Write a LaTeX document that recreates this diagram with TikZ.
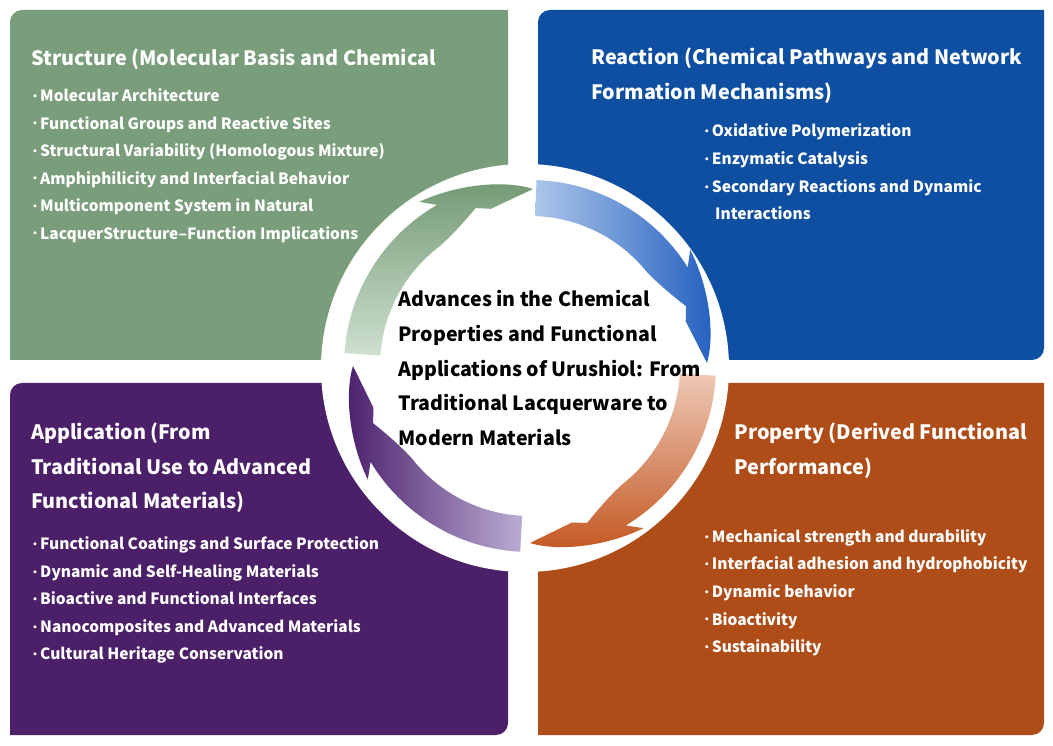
\documentclass[tikz,border=0pt]{standalone}
\usepackage{fontspec}
\setmainfont{Noto Sans CJK SC}
\definecolor{pgreen}{RGB}{122,158,123}
\definecolor{pblue}{RGB}{14,79,161}
\definecolor{ppurple}{RGB}{76,31,105}
\definecolor{porange}{RGB}{174,77,24}
\definecolor{ggreenL}{RGB}{206,224,207}
\definecolor{ggreenD}{RGB}{116,154,117}
\definecolor{gblueL}{RGB}{172,198,234}
\definecolor{gblueD}{RGB}{36,96,192}
\definecolor{gorangeL}{RGB}{237,200,182}
\definecolor{gorangeD}{RGB}{196,88,34}
\definecolor{gpurpleL}{RGB}{186,172,211}
\definecolor{gpurpleD}{RGB}{76,32,108}
\newcommand\bdot{\makebox[10pt][c]{\raisebox{1.2pt}{\fontsize{11}{11}\selectfont·}}}
% #1 = tip angle (arrow runs clockwise, tail at #1+87), #2 = fill options
\newcommand\ringarrow[2]{%
  \path[#2] (#1+87:186) arc[start angle=#1+87, end angle=#1+31, radius=186]
    -- (#1+35:198)
    .. controls (#1+22:196) and (#1+8:187) .. (#1:177)
    -- (#1+15:162) -- (#1+20:167)
    .. controls (#1+26:158) and (#1+32:152) .. (#1+38:150)
    arc[start angle=#1+38, end angle=#1+87, radius=150] -- cycle;}
\tikzset{
  ttl/.style={anchor=base west, inner sep=0pt, text=white, font=\fontsize{19.8}{19.8}\selectfont\bfseries},
  bul/.style={anchor=base west, inner sep=0pt, text=white, font=\fontsize{15.5}{15.5}\selectfont\bfseries},
  ctr/.style={anchor=base west, inner sep=0pt, text=black, font=\fontsize{19.6}{19.6}\selectfont\bfseries}
}
\begin{document}
\begin{tikzpicture}[x=1pt,y=1pt]
\useasboundingbox (0,0) rectangle (1053,745);
\fill[white] (0,0) rectangle (1053,745);
% panels
\fill[pgreen] (10,385) -- (10,723) arc[start angle=180,end angle=90,radius=12] -- (508,735) -- (508,385) -- cycle;
\fill[pblue] (538,385) -- (538,723) arc[start angle=180,end angle=90,radius=12] -- (1044,735) -- (1044,397) arc[start angle=0,end angle=-90,radius=12] -- cycle;
\fill[ppurple] (10,10) -- (10,350) arc[start angle=180,end angle=90,radius=12] -- (508,362) -- (508,22) arc[start angle=0,end angle=-90,radius=12] -- cycle;
\fill[porange] (538,10) -- (538,362) -- (1044,362) -- (1044,22) arc[start angle=0,end angle=-90,radius=12] -- cycle;
% central white disc
\fill[white] (525,377) circle[radius=204];
% ring arrows
\begin{scope}[shift={(530,379)}]
  \ringarrow{89}{top color=ggreenD, bottom color=ggreenL}
  \ringarrow{1}{left color=gblueL, right color=gblueD}
  \ringarrow{-90}{top color=gorangeL, bottom color=gorangeD}
  \ringarrow{-180}{left color=gpurpleD, right color=gpurpleL}
\end{scope}
% Structure panel
\node[ttl] (st) at (31,679.5) {Structure (Molecular Basis and Chemical};
\foreach \t [count=\i from 0] in {Molecular Architecture, Functional Groups and Reactive Sites, Structural Variability (Homologous Mixture), Amphiphilicity and Interfacial Behavior, Multicomponent System in Natural, LacquerStructure–Function Implications}
  \node[bul] (s\i) at (30,{643.3-27.5*\i}) {\bdot\t};
% Reaction panel
\node[ttl] (rt1) at (591,680) {Reaction (Chemical Pathways and Network};
\node[ttl] (rt2) at (591,645) {Formation Mechanisms)};
\foreach \t [count=\i from 0] in {Oxidative Polymerization, Enzymatic Catalysis, Secondary Reactions and Dynamic}
  \node[bul] (r\i) at (701.7,{608.3-27.8*\i}) {\bdot\t};
\node[bul] (r3) at (715,525) {Interactions};
% Application panel
\node[ttl] (at1) at (31,305) {Application (From};
\node[ttl] (at2) at (31,270.7) {Traditional Use to Advanced};
\node[ttl] (at3) at (31,236.7) {Functional Materials)};
\foreach \t [count=\i from 0] in {Functional Coatings and Surface Protection, Dynamic and Self-Healing Materials, Bioactive and Functional Interfaces, Nanocomposites and Advanced Materials, Cultural Heritage Conservation}
  \node[bul] (a\i) at (30,{195-27.5*\i}) {\bdot\t};
% Property panel
\node[ttl] (pt1) at (734.3,305) {Property (Derived Functional};
\node[ttl] (pt2) at (734.3,270.7) {Performance)};
\foreach \t [count=\i from 0] in {Mechanical strength and durability, Interfacial adhesion and hydrophobicity, Dynamic behavior, Bioactivity, Sustainability}
  \node[bul] (p\i) at (701.7,{202.7-27.6*\i}) {\bdot\t};
% centre title
\node[ctr] (c1) at (398.3,438.3) {Advances in the Chemical};
\node[ctr] (c2) at (398.3,403.3) {Properties and Functional};
\node[ctr] (c3) at (398.3,368.3) {Applications of Urushiol: From};
\node[ctr] (c4) at (398.3,334.3) {Traditional Lacquerware to};
\node[ctr] (c5) at (398.3,299.3) {Modern Materials};
\end{tikzpicture}
\end{document}
